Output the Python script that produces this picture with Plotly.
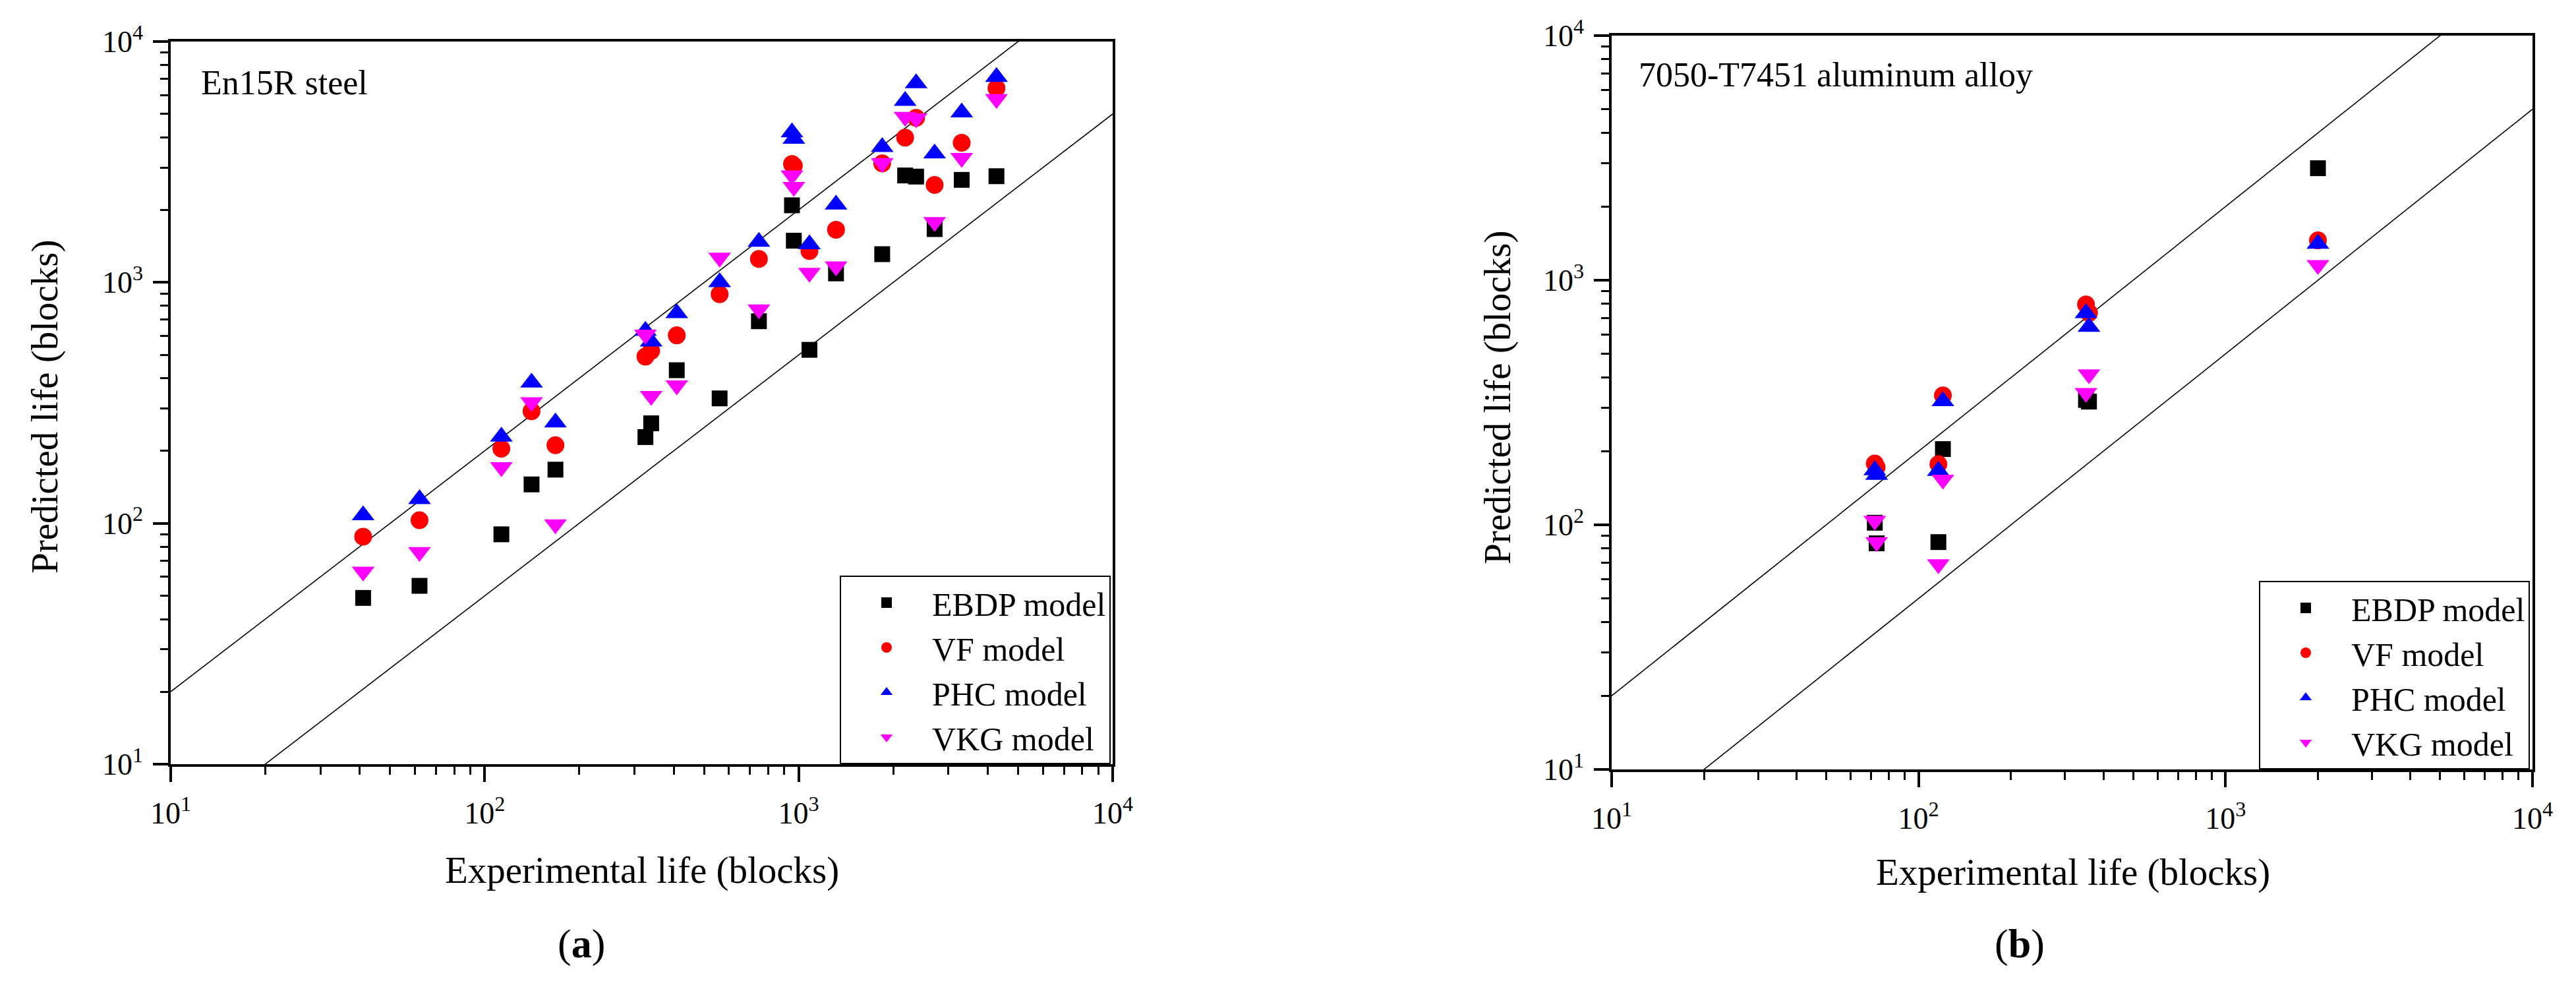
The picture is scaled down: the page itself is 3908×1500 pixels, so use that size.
import plotly.graph_objects as go

# ---------------- data ----------------
# (a) En15R steel : experimental life and predicted lives (blocks)
steel_exp = [41, 62, 113, 141, 168, 325, 339, 409, 560, 747, 952, 965, 1082, 1315, 1845, 2183, 2366, 2710, 3305, 4265]
steel_ebdp = [49, 55, 90, 145, 167, 228, 260, 432, 330, 690, 2090, 1490, 525, 1090, 1310, 2780, 2750, 1665, 2665, 2760]
steel_vf = [88, 103, 204, 292, 211, 492, 520, 603, 893, 1252, 3100, 3050, 1350, 1655, 3120, 3990, 4820, 2540, 3800, 6400]
steel_phc = [108, 126, 229, 384, 262, 630, 568, 745, 1002, 1475, 4200, 3950, 1440, 2105, 3650, 5670, 6710, 3430, 5080, 7130]
steel_vkg = [63, 76, 171, 318, 99, 607, 338, 374, 1268, 773, 2780, 2490, 1097, 1165, 3130, 4870, 4800, 1780, 3290, 5770]

# (b) 7050-T7451 aluminum alloy
alu_exp = [72, 73, 116, 120, 351, 359, 2000]
alu_ebdp = [102, 84, 85, 204, 324, 319, 2870]
alu_vf = [178, 172, 177, 338, 796, 735, 1455]
alu_phc = [167, 160, 166, 320, 733, 645, 1410]
alu_vkg = [104, 85, 69, 153, 346, 412, 1153]

model_names = ["EBDP model", "VF model", "PHC model", "VKG model"]
band_factor = 2.0
axis_span = [10, 10000]
major_ticks = [10, 100, 1000, 10000]
major_text = ["10<sup>1</sup>", "10<sup>2</sup>", "10<sup>3</sup>", "10<sup>4</sup>"]
minor_ticks = [d * 10 ** e for e in range(1, 4) for d in range(2, 10)]

# ---------------- styling ----------------
FONT = "Liberation Serif"
styles = [
    dict(symbol="square", color="#000000", size=24),
    dict(symbol="circle", color="#FF0000", size=27),
    dict(symbol="triangle-up", color="#0000FF", size=30),
    dict(symbol="triangle-down", color="#FF00FF", size=30),
]

W, H = 3908, 1500
fig = go.Figure()

panels = [
    dict(xa="x", ya="y", legend="legend", exp=steel_exp,
         ys=[steel_ebdp, steel_vf, steel_phc, steel_vkg]),
    dict(xa="x2", ya="y2", legend="legend2", exp=alu_exp,
         ys=[alu_ebdp, alu_vf, alu_phc, alu_vkg]),
]

for p in panels:
    # factor-of-two scatter band lines
    fig.add_trace(go.Scatter(x=axis_span, y=[v * band_factor for v in axis_span],
                             mode="lines", line=dict(color="black", width=1.6),
                             xaxis=p["xa"], yaxis=p["ya"], showlegend=False, hoverinfo="skip"))
    fig.add_trace(go.Scatter(x=axis_span, y=[v / band_factor for v in axis_span],
                             mode="lines", line=dict(color="black", width=1.6),
                             xaxis=p["xa"], yaxis=p["ya"], showlegend=False, hoverinfo="skip"))
    for name, yv, st in zip(model_names, p["ys"], styles):
        fig.add_trace(go.Scatter(
            x=p["exp"], y=yv, mode="markers", name=name,
            marker=dict(symbol=st["symbol"], color=st["color"], size=st["size"],
                        line=dict(width=0)),
            xaxis=p["xa"], yaxis=p["ya"], legend=p["legend"]))

def axis_common(is_x):
    d = dict(type="log", range=[1, 4], showgrid=False, zeroline=False, automargin=False,
             showline=True, linecolor="black", linewidth=3.5, mirror=True,
             ticks="outside", ticklen=23, tickwidth=3.5, tickcolor="black",
             tickmode="array", tickvals=major_ticks, ticktext=major_text,
             tickfont=dict(family=FONT, size=46, color="black"),
             minor=dict(ticks="outside", ticklen=12, tickwidth=3, tickcolor="black",
                        tickmode="array", tickvals=minor_ticks, showgrid=False))
    d["ticklabelstandoff"] = 8 if is_x else 6
    return d

# pixel-based domains
L1, R1, T1, B1 = 259, 1688, 63, 1159
L2, R2, T2, B2 = 2445, 3842, 54, 1167

legend_style = dict(bgcolor="white", bordercolor="black", borderwidth=2,
                    font=dict(family=FONT, size=50, color="black"),
                    itemwidth=128, itemsizing="trace", tracegroupgap=0)

fig.update_layout(
    width=W, height=H,
    margin=dict(l=0, r=0, t=0, b=0, pad=0, autoexpand=False),
    paper_bgcolor="white", plot_bgcolor="white",
    font=dict(family=FONT, color="black"),
    xaxis=dict(domain=[L1 / W, R1 / W], anchor="y", **axis_common(True)),
    yaxis=dict(domain=[1 - B1 / H, 1 - T1 / H], anchor="x", **axis_common(False)),
    xaxis2=dict(domain=[L2 / W, R2 / W], anchor="y2", **axis_common(True)),
    yaxis2=dict(domain=[1 - B2 / H, 1 - T2 / H], anchor="x2", **axis_common(False)),
    legend=dict(x=1685 / W, xanchor="right", y=1 - B1 / H, yanchor="bottom", **legend_style),
    legend2=dict(x=3838 / W, xanchor="right", y=1 - B2 / H, yanchor="bottom", **legend_style),
)

ann = []
def txt(x, y, text, size, xanchor="center", angle=0):
    ann.append(dict(x=x, y=y, xref="paper", yref="paper", text=text, showarrow=False,
                    xanchor=xanchor, yanchor="middle", textangle=angle,
                    font=dict(family=FONT, size=size, color="black")))

txt(303 / W, 1 - 126 / H, "En15R steel", 52, xanchor="left")
txt(2484 / W, 1 - 113 / H, "7050-T7451 aluminum alloy", 52, xanchor="left")
txt(974 / W, 1 - 1320 / H, "Experimental life (blocks)", 57)
txt(3145 / W, 1 - 1323 / H, "Experimental life (blocks)", 57)
txt(68 / W, 1 - 617 / H, "Predicted life (blocks)", 57, angle=-90)
txt(2272 / W, 1 - 603 / H, "Predicted life (blocks)", 57, angle=-90)
txt(882 / W, 1 - 1431 / H, "(<b>a</b>)", 62)
txt(3064 / W, 1 - 1431 / H, "(<b>b</b>)", 62)
fig.update_layout(annotations=ann)

fig.write_html("out.html", config={"displayModeBar": False},
               post_script="document.body.style.margin='0px';")
